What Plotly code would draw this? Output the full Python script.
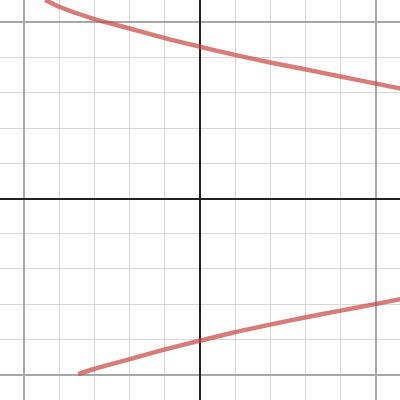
import plotly.graph_objects as go

# values (graph units)
upper_x = [-4.40, -3.98, -3.04, -2.00, -1.05, 0.0, 0.99, 1.96, 2.98, 3.92, 4.97, 5.70]
upper_y = [5.64, 5.44, 5.11, 4.83, 4.57, 4.31, 4.08, 3.87, 3.67, 3.48, 3.27, 3.12]

lower_x = [-3.46, -3.03, -2.02, -1.04, 0.0, 0.99, 1.96, 2.98, 3.92, 4.97, 5.70]
lower_y = [-4.99, -4.85, -4.57, -4.30, -4.04, -3.80, -3.59, -3.38, -3.20, -3.00, -2.86]

curve_color = "rgba(199, 68, 64, 0.7)"

fig = go.Figure()
fig.add_trace(go.Scatter(x=upper_x, y=upper_y, mode="lines",
                         line=dict(color=curve_color, width=4.5, shape="spline", smoothing=0.8),
                         hoverinfo="skip"))
fig.add_trace(go.Scatter(x=lower_x, y=lower_y, mode="lines",
                         line=dict(color=curve_color, width=4.5, shape="spline", smoothing=0.8),
                         hoverinfo="skip"))

axis_style = dict(
    showticklabels=False,
    ticks="",
    dtick=5,
    showgrid=True,
    gridcolor="#a8a8a8",
    gridwidth=1.6,
    zeroline=True,
    zerolinecolor="#222222",
    zerolinewidth=2,
    showline=False,
    minor=dict(dtick=1, showgrid=True, gridcolor="#d8d8d8", gridwidth=1.4),
)

fig.update_layout(
    width=400,
    height=400,
    margin=dict(l=0, r=0, t=0, b=0),
    paper_bgcolor="white",
    plot_bgcolor="white",
    showlegend=False,
    xaxis=dict(range=[-5.682, 5.682], **axis_style),
    yaxis=dict(range=[-5.724, 5.639], **axis_style),
)

# the page body has a default margin; drop it so the plot fills the window
fig.write_html("out.html", config={"displayModeBar": False},
               post_script="document.body.style.margin='0';")
